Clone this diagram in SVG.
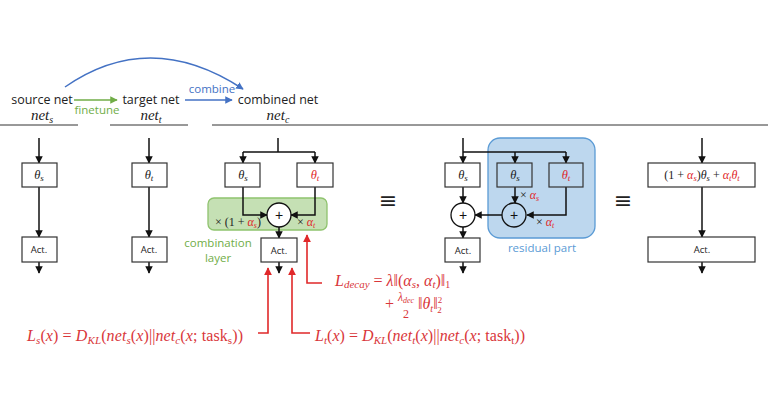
<svg xmlns="http://www.w3.org/2000/svg" width="768" height="401" viewBox="0 0 768 401">
<defs>
<marker id="ab" viewBox="0 0 10 10" refX="9" refY="5" markerWidth="5" markerHeight="5" orient="auto"><path d="M0,0 L10,5 L0,10 z" fill="#111"/></marker>
<marker id="ar" viewBox="0 0 10 10" refX="9" refY="5" markerWidth="5" markerHeight="5" orient="auto"><path d="M0,0 L10,5 L0,10 z" fill="#e0282a"/></marker>
<marker id="ag" viewBox="0 0 10 10" refX="9" refY="5" markerWidth="5" markerHeight="5" orient="auto"><path d="M0,0 L10,5 L0,10 z" fill="#70ad47"/></marker>
<marker id="abl" viewBox="0 0 10 10" refX="9" refY="5" markerWidth="5" markerHeight="5" orient="auto"><path d="M0,0 L10,5 L0,10 z" fill="#4472c4"/></marker>
</defs>
<style>
.lbl{font-family:"Open Sans","Liberation Sans",sans-serif;font-size:12.5px;fill:#222}
.m{font-family:"Liberation Serif",serif;font-style:italic;fill:#222}
.box{fill:#fff;stroke:#333;stroke-width:1.2}
.bbox{fill:#bdd7ee;stroke:#333;stroke-width:1.2}
.act{font-family:"Open Sans","Liberation Sans",sans-serif;font-size:9.5px;fill:#222}
.w{stroke:#111;stroke-width:1.5;fill:none}
.wa{stroke:#111;stroke-width:1.5;fill:none;marker-end:url(#ab)}
.ra{stroke:#e0282a;stroke-width:1.6;fill:none;marker-end:url(#ar)}
.rt{font-family:"Liberation Serif",serif;font-style:italic;fill:#d9363a;font-size:16px}
.n{font-style:normal}
.circ{fill:#fff;stroke:#111;stroke-width:1.3}
.plus{font-family:"Liberation Sans",sans-serif;font-size:14px;fill:#111}
.eq{font-family:"DejaVu Sans",sans-serif;font-size:22px;fill:#222}
.ml{font-family:"Liberation Serif",serif;font-size:12px;fill:#222}
.gt{font-family:"Open Sans","Liberation Sans",sans-serif;font-size:11.5px;fill:#70ad47}
</style>

<g id="combination-layer">
<rect x="208" y="198" width="119" height="32" rx="6" fill="#c5e0b4" stroke="#8fc36e" stroke-width="1.3"/>
<text class="gt" x="218" y="247" text-anchor="middle">combination</text>
<text class="gt" x="218" y="262" text-anchor="middle">layer</text>
</g>
<g id="residual-part">
<rect x="488" y="138" width="107" height="100" rx="12" fill="#bdd7ee" stroke="#5b9bd5" stroke-width="1.3"/>
<text x="542" y="252" text-anchor="middle" font-family="Open Sans, Liberation Sans, sans-serif" font-size="11.5" fill="#5b9bd5">residual part</text>
</g>

<g id="header">
<text class="lbl" x="42" y="104" text-anchor="middle">source net</text>
<text class="m" x="42" y="120" text-anchor="middle" font-size="15">net<tspan font-size="10" dy="3">s</tspan></text>
<text class="lbl" x="151" y="104" text-anchor="middle">target net</text>
<text class="m" x="151" y="120" text-anchor="middle" font-size="15">net<tspan font-size="10" dy="3">t</tspan></text>
<text class="lbl" x="278" y="104" text-anchor="middle">combined net</text>
<text class="m" x="278" y="120" text-anchor="middle" font-size="15">net<tspan font-size="10" dy="3">c</tspan></text>
<text x="97" y="114" text-anchor="middle" font-family="Open Sans, Liberation Sans, sans-serif" font-size="11.5" fill="#70ad47">finetune</text>
<text x="212" y="93" text-anchor="middle" font-family="Open Sans, Liberation Sans, sans-serif" font-size="11.5" fill="#4472c4">combine</text>
<line x1="0" y1="125" x2="78" y2="125" stroke="#333" stroke-width="1"/>
<line x1="110" y1="125" x2="188" y2="125" stroke="#333" stroke-width="1"/>
<line x1="212" y1="125" x2="768" y2="125" stroke="#333" stroke-width="1"/>
</g>

<g id="connectors">
<line x1="74" y1="100" x2="117" y2="100" stroke="#70ad47" stroke-width="1.5" marker-end="url(#ag)"/>
<line x1="185" y1="100" x2="232" y2="100" stroke="#4472c4" stroke-width="1.5" marker-end="url(#abl)"/>
<path d="M65,87 Q150,28 243,89" stroke="#4472c4" stroke-width="1.5" fill="none" marker-end="url(#abl)"/>
<line class="wa" x1="39" y1="138" x2="39" y2="163"/>
<line class="wa" x1="39" y1="187" x2="39" y2="237"/>
<line class="wa" x1="39" y1="262" x2="39" y2="273"/>
<line class="wa" x1="149" y1="138" x2="149" y2="163"/>
<line class="wa" x1="149" y1="187" x2="149" y2="237"/>
<line class="wa" x1="149" y1="262" x2="149" y2="273"/>
<line class="w" x1="278" y1="138" x2="278" y2="152"/>
<line class="w" x1="243" y1="152" x2="315" y2="152"/>
<line class="wa" x1="243" y1="152" x2="243" y2="163"/>
<line class="wa" x1="315" y1="152" x2="315" y2="163"/>
<polyline class="wa" points="243,187 243,215 267,215"/>
<polyline class="wa" points="315,187 315,215 291,215"/>
<line class="wa" x1="279" y1="227" x2="279" y2="238"/>
<line class="wa" x1="279" y1="262" x2="279" y2="273"/>
<line class="wa" x1="463" y1="138" x2="463" y2="163"/>
<line class="w" x1="463" y1="152" x2="566" y2="152"/>
<line class="wa" x1="515" y1="152" x2="515" y2="163"/>
<line class="wa" x1="566" y1="152" x2="566" y2="163"/>
<line class="wa" x1="463" y1="187" x2="463" y2="203"/>
<line class="wa" x1="515" y1="187" x2="515" y2="203"/>
<polyline class="wa" points="566,187 566,215 527,215"/>
<line class="wa" x1="502" y1="215" x2="475" y2="215"/>
<line class="wa" x1="463" y1="227" x2="463" y2="238"/>
<line class="wa" x1="463" y1="262" x2="463" y2="273"/>
<line class="wa" x1="702" y1="138" x2="702" y2="163"/>
<line class="wa" x1="702" y1="187" x2="702" y2="237"/>
<line class="wa" x1="702" y1="262" x2="702" y2="273"/>
<polyline class="ra" points="258,333 268,333 268,268"/>
<polyline class="ra" points="310,333 292,333 292,268"/>
<polyline class="ra" points="322,283 307,283 307,235"/>
</g>

<g id="col1">
<rect class="box" x="22" y="163" width="35" height="24"/>
<text class="m" x="39" y="179" text-anchor="middle" font-size="12.5">θ<tspan font-size="9" dy="2">s</tspan></text>
<rect class="box" x="22" y="237" width="35" height="25"/>
<text class="act" x="39" y="253" text-anchor="middle">Act.</text>
</g>
<g id="col2">
<rect class="box" x="132" y="163" width="35" height="24"/>
<text class="m" x="149" y="179" text-anchor="middle" font-size="12.5">θ<tspan font-size="9" dy="2">t</tspan></text>
<rect class="box" x="132" y="237" width="35" height="25"/>
<text class="act" x="149" y="253" text-anchor="middle">Act.</text>
</g>
<g id="col3">
<rect class="box" x="225" y="163" width="35" height="24"/>
<text class="m" x="243" y="179" text-anchor="middle" font-size="12.5">θ<tspan font-size="9" dy="2">s</tspan></text>
<rect class="box" x="297" y="163" width="36" height="24"/>
<text class="m" x="315" y="179" text-anchor="middle" font-size="12.5" style="fill:#e0282a">θ<tspan font-size="9" dy="2">t</tspan></text>
<circle class="circ" cx="279" cy="215" r="12"/>
<text class="plus" x="279" y="220" text-anchor="middle">+</text>
<text class="ml" x="215" y="226">× (1 + <tspan class="m" style="fill:#e0282a">α</tspan><tspan class="m" font-size="8" dy="2" style="fill:#e0282a">s</tspan><tspan dy="-2">)</tspan></text>
<text class="ml" x="297" y="226">× <tspan class="m" style="fill:#e0282a">α</tspan><tspan class="m" font-size="8" dy="2" style="fill:#e0282a">t</tspan></text>
<rect class="box" x="261" y="238" width="36" height="24"/>
<text class="act" x="279" y="254" text-anchor="middle">Act.</text>
</g>
<g id="equiv1"><text class="eq" x="388" y="208" text-anchor="middle">≡</text></g>
<g id="col4">
<rect class="box" x="445" y="163" width="35" height="24"/>
<text class="m" x="463" y="179" text-anchor="middle" font-size="12.5">θ<tspan font-size="9" dy="2">s</tspan></text>
<rect class="bbox" x="497" y="163" width="35" height="24"/>
<text class="m" x="515" y="179" text-anchor="middle" font-size="12.5">θ<tspan font-size="9" dy="2">s</tspan></text>
<rect class="bbox" x="549" y="163" width="34" height="24"/>
<text class="m" x="566" y="179" text-anchor="middle" font-size="12.5" style="fill:#e0282a">θ<tspan font-size="9" dy="2">t</tspan></text>
<circle class="circ" cx="463" cy="215" r="12"/>
<text class="plus" x="463" y="220" text-anchor="middle">+</text>
<circle cx="514" cy="215" r="12" fill="#bdd7ee" stroke="#111" stroke-width="1.3"/>
<text class="plus" x="514" y="220" text-anchor="middle">+</text>
<text class="ml" x="520" y="199">× <tspan class="m" style="fill:#e0282a">α</tspan><tspan class="m" font-size="8" dy="2" style="fill:#e0282a">s</tspan></text>
<text class="ml" x="536" y="226">× <tspan class="m" style="fill:#e0282a">α</tspan><tspan class="m" font-size="8" dy="2" style="fill:#e0282a">t</tspan></text>
<rect class="box" x="445" y="238" width="35" height="24"/>
<text class="act" x="463" y="254" text-anchor="middle">Act.</text>
</g>
<g id="equiv2"><text class="eq" x="623" y="208" text-anchor="middle">≡</text></g>
<g id="col5">
<rect class="box" x="648" y="163" width="107" height="24"/>
<text class="ml" x="702" y="179" text-anchor="middle" font-size="12.5">(1 + <tspan class="m" style="fill:#e0282a">α</tspan><tspan class="m" font-size="8.5" dy="2" style="fill:#e0282a">s</tspan><tspan dy="-2">)</tspan><tspan class="m">θ</tspan><tspan class="m" font-size="8.5" dy="2">s</tspan><tspan dy="-2"> + </tspan><tspan class="m" style="fill:#e0282a">α</tspan><tspan class="m" font-size="8.5" dy="2" style="fill:#e0282a">t</tspan><tspan class="m" dy="-2" style="fill:#e0282a">θ</tspan><tspan class="m" font-size="8.5" dy="2" style="fill:#e0282a">t</tspan></text>
<rect class="box" x="648" y="237" width="107" height="25"/>
<text class="act" x="702" y="253" text-anchor="middle">Act.</text>
</g>

<g id="losses">
<text class="rt" x="27" y="341" textLength="216" lengthAdjust="spacing">L<tspan font-size="11" dy="3">s</tspan><tspan dy="-3" class="n">(</tspan>x<tspan class="n">) = </tspan>D<tspan font-size="11" dy="3">KL</tspan><tspan dy="-3" class="n">(</tspan>net<tspan font-size="11" dy="3">s</tspan><tspan dy="-3" class="n">(</tspan>x<tspan class="n">)||</tspan>net<tspan font-size="11" dy="3">c</tspan><tspan dy="-3" class="n">(</tspan>x<tspan class="n">; task</tspan><tspan class="n" font-size="11" dy="3">s</tspan><tspan dy="-3" class="n">))</tspan></text>
<text class="rt" x="315" y="341" textLength="210" lengthAdjust="spacing">L<tspan font-size="11" dy="3">t</tspan><tspan dy="-3" class="n">(</tspan>x<tspan class="n">) = </tspan>D<tspan font-size="11" dy="3">KL</tspan><tspan dy="-3" class="n">(</tspan>net<tspan font-size="11" dy="3">t</tspan><tspan dy="-3" class="n">(</tspan>x<tspan class="n">)||</tspan>net<tspan font-size="11" dy="3">c</tspan><tspan dy="-3" class="n">(</tspan>x<tspan class="n">; task</tspan><tspan class="n" font-size="11" dy="3">t</tspan><tspan dy="-3" class="n">))</tspan></text>
<text class="rt" x="335" y="286">L<tspan font-size="11" dy="2">decay</tspan><tspan dy="-2" class="n"> = </tspan>λ<tspan class="n">‖(</tspan>α<tspan font-size="11" dy="2">s</tspan><tspan dy="-2" class="n">, </tspan>α<tspan font-size="11" dy="2">t</tspan><tspan dy="-2" class="n">)‖</tspan><tspan class="n" font-size="10" dy="2">1</tspan></text>
<text class="rt"><tspan class="n" x="385" y="309">+</tspan><tspan x="398" y="301" font-size="11.5">λ</tspan><tspan font-size="8" dy="1.5">dec</tspan><tspan class="n" x="403" y="318" font-size="12">2</tspan><tspan class="n" x="418" y="309">‖</tspan>θ<tspan font-size="10" dy="3">t</tspan><tspan dy="-3" class="n">‖</tspan><tspan class="n" font-size="9" dy="-6">2</tspan><tspan class="n" font-size="9" dx="-5" dy="10">2</tspan></text>
</g>
</svg>
